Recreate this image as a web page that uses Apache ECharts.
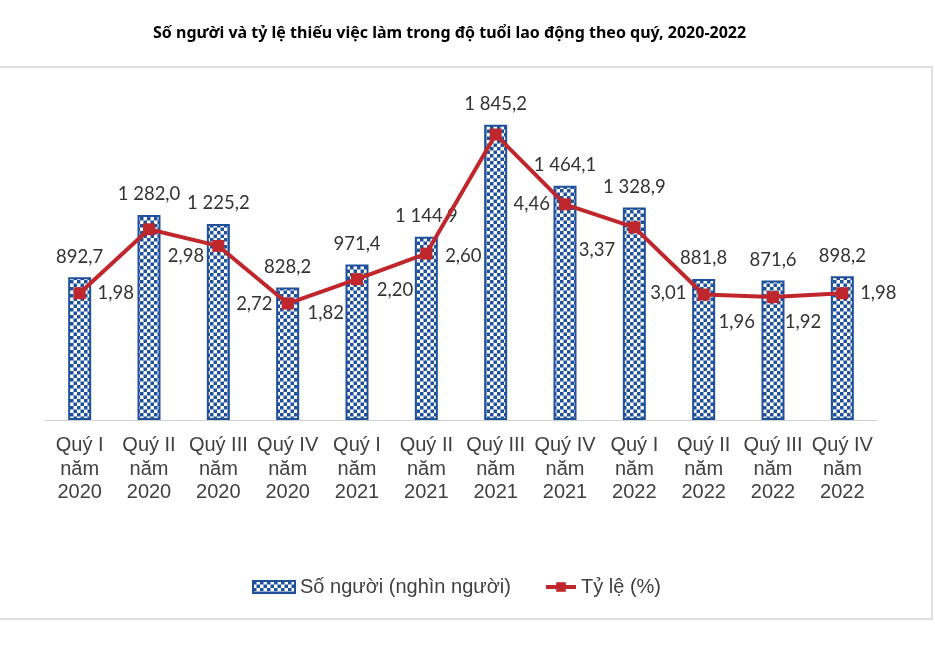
<!DOCTYPE html>
<html>
<head>
<meta charset="utf-8">
<script src="https://cdn.jsdelivr.net/npm/echarts@6/dist/echarts.min.js"></script>
<style>
html,body{margin:0;padding:0;background:#fff;}
#main{width:935px;height:646px;}
</style>
</head>
<body>
<div id="main"></div>
<script>
// ---- data ----
const categories = [
  'Quý I\nnăm\n2020','Quý II\nnăm\n2020','Quý III\nnăm\n2020','Quý IV\nnăm\n2020',
  'Quý I\nnăm\n2021','Quý II\nnăm\n2021','Quý III\nnăm\n2021','Quý IV\nnăm\n2021',
  'Quý I\nnăm\n2022','Quý II\nnăm\n2022','Quý III\nnăm\n2022','Quý IV\nnăm\n2022'
];
const soNguoi = [892.7, 1282.0, 1225.2, 828.2, 971.4, 1144.9, 1845.2, 1464.1, 1328.9, 881.8, 871.6, 898.2];
const tyLe = [1.98, 2.98, 2.72, 1.82, 2.20, 2.60, 4.46, 3.37, 3.01, 1.96, 1.92, 1.98];
const seriesNames = ['Số người (nghìn người)', 'Tỷ lệ (%)'];
const titleText = 'Số người và tỷ lệ thiếu việc làm trong độ tuổi lao động theo quý, 2020-2022';

// ---- label layout (offsets relative to the point, px) ----
const rateLabelOffsets = [[36,0],[37,27],[36,58],[38,10],[38,11],[37,2],[36,69],[32,46],[34,66],[33,27],[30,25],[36,0]];

function fmtNum(v, dec) {
  const s = v.toFixed(dec);
  let [i, d] = s.split('.');
  i = i.replace(/\B(?=(\d{3})+(?!\d))/g, ' ');
  return d !== undefined ? i + ',' + d : i;
}

// checkerboard pattern
const pc = document.createElement('canvas');
pc.width = 7; pc.height = 7;
const pctx = pc.getContext('2d');
pctx.fillStyle = '#ffffff';
pctx.fillRect(0,0,7,7);
pctx.fillStyle = '#1f519a';
pctx.fillRect(0,0,3.5,3.5);
pctx.fillRect(3.5,3.5,3.5,3.5);

const chart = echarts.init(document.getElementById('main'), null, {renderer:'canvas'});
const dataLabelFont = {fontFamily:'Lato, "Liberation Sans", sans-serif', fontSize:18.5, color:'#333333'};
const arialFont = 'Liberation Sans, Arial, sans-serif';
const legendText = {fontFamily:arialFont, fontSize:20, color:'#404040'};

chart.setOption({
  animation:false,
  backgroundColor:'#ffffff',
  title:{
    text:titleText, left:148, top:20,
    textStyle:{fontFamily:'"Noto Sans", "Open Sans", sans-serif', fontWeight:'bold', fontSize:16, color:'#000'}
  },
  graphic:[{
    type:'rect', silent:true, z:-1,
    shape:{x:-2, y:67, width:934, height:552},
    style:{fill:'none', stroke:'#d3d3d3', lineWidth:1.5}
  }],
  legend:[
    {
      bottom:44, left:247, itemWidth:42, itemHeight:12, itemGap:5,
      textStyle:legendText,
      data:[{name:seriesNames[0], icon:'rect'}]
    },
    {
      bottom:44, left:539, itemWidth:30, itemHeight:12, itemGap:5,
      textStyle:legendText,
      lineStyle:{width:4},
      data:[{name:seriesNames[1]}]
    }
  ],
  grid:{left:45, right:58, top:100, bottom:226},
  xAxis:{
    type:'category', data:categories,
    axisLine:{lineStyle:{color:'#d0d0d0', width:1}},
    axisTick:{show:false},
    axisLabel:{interval:0, fontFamily:arialFont, fontSize:20, color:'#404040', lineHeight:23.5, margin:14}
  },
  yAxis:[
    {type:'value', min:0, max:2000, show:false, splitLine:{show:false}},
    {type:'value', min:0, max:5, show:false, splitLine:{show:false}}
  ],
  series:[
    {
      name:seriesNames[0], type:'bar', yAxisIndex:0, barWidth:23,
      data:soNguoi,
      itemStyle:{color:{image:pc, repeat:'repeat'}, borderColor:'#1f519a', borderWidth:2},
      label:{show:true, position:'top', distance:11, formatter:p=>fmtNum(p.value,1), ...dataLabelFont}
    },
    {
      name:seriesNames[1], type:'line', yAxisIndex:1,
      data:tyLe.map((v,i)=>({value:v, label:{offset:rateLabelOffsets[i]}})),
      symbol:'rect', symbolSize:12,
      lineStyle:{color:'#c0272d', width:4},
      itemStyle:{color:'#c0272d'},
      z:5,
      label:{show:true, position:'inside', formatter:p=>fmtNum(p.value,2), ...dataLabelFont}
    }
  ]
});
</script>
</body>
</html>
